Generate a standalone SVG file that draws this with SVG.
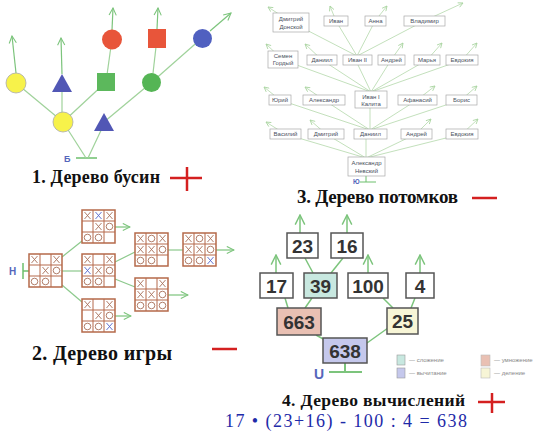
<svg xmlns="http://www.w3.org/2000/svg" width="550" height="435" viewBox="0 0 550 435">
<style>
.ln{stroke:#9fd29a;stroke-width:1.2;fill:none}
.ar{stroke:#7cc47c;stroke-width:1.2;fill:none;marker-end:url(#ah)}
.ar4{stroke:#7cc47c;stroke-width:1.5;fill:none;marker-end:url(#ah4)}
.ln4{stroke:#7cc47c;stroke-width:1.5;fill:none}
.ln3{stroke:#bcdcb4;stroke-width:0.9;fill:none}
.ar3{stroke:#bcdcb4;stroke-width:0.9;fill:none;marker-end:url(#ah3)}
.base{stroke:#6cbf6c;stroke-width:1.5;fill:none}
.lbl{font-family:"Liberation Sans",Arial,sans-serif;font-weight:bold;fill:#5566bb}
.title{font-family:"Liberation Serif","Times New Roman",serif;font-weight:bold;fill:#111}
.red{stroke:#d42020;stroke-width:2.5}
.b3 rect{fill:#fff;stroke:#a8a8a8;stroke-width:0.7}
.b3 text{font-family:"Liberation Sans",Arial,sans-serif;font-size:6px;fill:#4a5060;text-anchor:middle}
.xo{stroke:#a8705a;stroke-width:0.9;fill:none}
.xb{stroke:#5566cc;stroke-width:0.9;fill:none}
.n4 rect{stroke:#555;stroke-width:1.5}
.n4 text{font-family:"Liberation Sans",Arial,sans-serif;font-weight:bold;font-size:19px;fill:#333;text-anchor:middle}
.leg{font-family:"Liberation Sans",Arial,sans-serif;font-size:6px;fill:#888}
</style>
<defs>
<marker id="ah" viewBox="0 0 10 10" refX="9" refY="5" markerWidth="9" markerHeight="9" orient="auto" markerUnits="userSpaceOnUse"><path d="M1,1 L9,5 L1,9" fill="none" stroke="#7cc47c" stroke-width="1.2"/></marker>
<marker id="ah4" viewBox="0 0 10 10" refX="9" refY="5" markerWidth="12" markerHeight="12" orient="auto" markerUnits="userSpaceOnUse"><path d="M1,1 L9,5 L1,9" fill="none" stroke="#7cc47c" stroke-width="1.2"/></marker>
<marker id="ah3" viewBox="0 0 10 10" refX="9" refY="5" markerWidth="6" markerHeight="6" orient="auto" markerUnits="userSpaceOnUse"><path d="M1,1 L9,5 L1,9" fill="none" stroke="#a9d4a0" stroke-width="1.4"/></marker>
<path id="gx" d="M-3,-3.5 L3,3.5 M3,-3.5 L-3,3.5"/>
<circle id="go" r="3.3"/>
<g id="grid"><rect x="0" y="0" width="33" height="33" fill="#fff" stroke="#b5694a" stroke-width="1.5"/><path d="M11,0V33M22,0V33M0,11H33M0,22H33" fill="none" stroke="#b5694a" stroke-width="1"/></g>
</defs>

<!-- ============ 1. Tree of beads ============ -->
<g id="connectors1">
<line class="base" x1="76" y1="158" x2="97" y2="158"/>
<line class="ln" x1="86" y1="158" x2="63" y2="122"/>
<line class="ln" x1="88" y1="158" x2="104" y2="124"/>
<line class="ln" x1="63" y1="122" x2="16" y2="83"/>
<line class="ln" x1="62" y1="122" x2="62" y2="84"/>
<line class="ln" x1="63" y1="122" x2="106" y2="82"/>
<line class="ln" x1="104" y1="122" x2="152" y2="82"/>
<line class="ln" x1="106" y1="82" x2="112" y2="39"/>
<line class="ln" x1="152" y1="82" x2="157" y2="38"/>
<line class="ln" x1="152" y1="82" x2="202" y2="38"/>
<line class="ar" x1="16" y1="73" x2="12" y2="36"/>
<line class="ar" x1="62" y1="74" x2="61" y2="38"/>
<line class="ar" x1="112" y1="30" x2="113" y2="8"/>
<line class="ar" x1="157" y1="29" x2="158" y2="8"/>
<line class="ar" x1="210" y1="31" x2="231" y2="13"/>
</g>
<text class="lbl" x="64" y="162" font-size="9">Б</text>
<g id="bead-y1"><circle cx="63" cy="122" r="10" fill="#f7f24a" stroke="#aaa" stroke-width="0.8"/></g>
<g id="bead-t1"><polygon points="104,113 114,131 94,131" fill="#5157b5"/></g>
<g id="bead-y2"><circle cx="16" cy="83" r="10" fill="#f7f24a" stroke="#aaa" stroke-width="0.8"/></g>
<g id="bead-t2"><polygon points="62,74 72,92 52,92" fill="#5157b5"/></g>
<g id="bead-s2"><rect x="97" y="73" width="18" height="18" fill="#5cb85c"/></g>
<g id="bead-c2"><circle cx="151.5" cy="82.5" r="9.5" fill="#55b555"/></g>
<g id="bead-r3"><circle cx="112" cy="39.5" r="10" fill="#e8553a"/></g>
<g id="bead-rs3"><rect x="148" y="29" width="18" height="19" fill="#e8553a"/></g>
<g id="bead-b3"><circle cx="202.5" cy="38.5" r="9.5" fill="#5060c0"/></g>
<text class="title" x="32" y="183" font-size="18" textLength="128">1. Дерево бусин</text>
<line class="red" x1="170" y1="178" x2="202" y2="178"/>
<line class="red" x1="187" y1="167" x2="187" y2="191"/>

<!-- ============ 3. Tree of descendants ============ -->
<g id="connectors3">
<line class="base" x1="366" y1="176" x2="366" y2="182" style="stroke-width:1"/>
<line class="base" x1="360" y1="182" x2="376" y2="182" style="stroke-width:1"/>
<polyline class="ar3" points="366,158 285,134 266,122"/>
<polyline class="ar3" points="366,158 326,134 310,120"/>
<line class="ln3" x1="366" y1="158" x2="366" y2="139"/>
<polyline class="ar3" points="366,158 416,134 431,119"/>
<polyline class="ar3" points="366,158 462,134 478,119"/>
<polyline class="ar3" points="370,130 280,100 264,87"/>
<polyline class="ar3" points="370,130 324,100 305,87"/>
<line class="ln3" x1="370" y1="130" x2="370" y2="108"/>
<polyline class="ar3" points="370,130 417,100 435,86"/>
<polyline class="ar3" points="370,130 461,100 477,86"/>
<polyline class="ar3" points="371,92 283,60 266,44"/>
<polyline class="ar3" points="371,92 322,60 305,44"/>
<line class="ln3" x1="371" y1="92" x2="358" y2="65"/>
<polyline class="ar3" points="371,92 391,60 403,43"/>
<polyline class="ar3" points="371,92 427,60 442,43"/>
<polyline class="ar3" points="371,92 462,60 477,43"/>
<polyline class="ar3" points="357,56 291,22 268,7"/>
<polyline class="ar3" points="357,56 336,21 330,6"/>
<polyline class="ar3" points="357,56 375,21 387,6"/>
<polyline class="ar3" points="357,56 424,21 463,3"/>
</g>
<g id="p-nevsky" class="b3"><rect x="348" y="157" width="37" height="19"/><text x="366.5" y="165">Александр</text><text x="366.5" y="172.5">Невский</text></g>
<g id="p-vasiliy" class="b3"><rect x="270" y="129" width="31" height="10"/><text x="285.5" y="136.2">Василий</text></g>
<g id="p-dmitriy" class="b3"><rect x="308" y="129" width="36" height="10"/><text x="326" y="136.2">Дмитрий</text></g>
<g id="p-daniil" class="b3"><rect x="354" y="129" width="33" height="10"/><text x="370.5" y="136.2">Даниил</text></g>
<g id="p-andrey" class="b3"><rect x="401" y="129" width="31" height="10"/><text x="416.5" y="136.2">Андрей</text></g>
<g id="p-evdokiya" class="b3"><rect x="446" y="129" width="32" height="10"/><text x="462" y="136.2">Евдокия</text></g>
<g id="p-yuriy" class="b3"><rect x="269" y="95" width="22" height="10"/><text x="280" y="102.2">Юрий</text></g>
<g id="p-aleksandr" class="b3"><rect x="303" y="95" width="42" height="10"/><text x="324" y="102.2">Александр</text></g>
<g id="p-kalita" class="b3"><rect x="355" y="91" width="32" height="17"/><text x="371" y="98.5">Иван  I</text><text x="371" y="105.5">Калита</text></g>
<g id="p-afanasiy" class="b3"><rect x="398" y="95" width="39" height="10"/><text x="417.5" y="102.2">Афанасий</text></g>
<g id="p-boris" class="b3"><rect x="446" y="95" width="31" height="10"/><text x="461.5" y="102.2">Борис</text></g>
<g id="p-semen" class="b3"><rect x="268" y="51" width="30" height="17"/><text x="283" y="58">Семен</text><text x="283" y="65">Гордый</text></g>
<g id="p-daniil2" class="b3"><rect x="307" y="55" width="30" height="10"/><text x="322" y="62.2">Даниил</text></g>
<g id="p-ivan2" class="b3"><rect x="343" y="55" width="29" height="10"/><text x="357.5" y="62.2">Иван  II</text></g>
<g id="p-andrey2" class="b3"><rect x="378" y="55" width="27" height="10"/><text x="391.5" y="62.2">Андрей</text></g>
<g id="p-marya" class="b3"><rect x="414" y="55" width="26" height="10"/><text x="427" y="62.2">Марья</text></g>
<g id="p-evdokiya2" class="b3"><rect x="446" y="55" width="32" height="10"/><text x="462" y="62.2">Евдокия</text></g>
<g id="p-donskoy" class="b3"><rect x="273" y="13" width="36" height="19"/><text x="291" y="21">Дмитрий</text><text x="291" y="28.5">Донской</text></g>
<g id="p-ivan" class="b3"><rect x="324" y="16" width="24" height="10"/><text x="336" y="23.2">Иван</text></g>
<g id="p-anna" class="b3"><rect x="365" y="16" width="21" height="10"/><text x="375.5" y="23.2">Анна</text></g>
<g id="p-vladimir" class="b3"><rect x="404" y="16" width="41" height="10"/><text x="424.5" y="23.2">Владимир</text></g>
<text class="lbl" x="353" y="184" font-size="6.5">Ю</text>
<text class="title" x="297" y="203" font-size="19" textLength="161">3. Дерево потомков</text>
<line class="red" x1="472" y1="198" x2="497" y2="198"/>

<!-- ============ 2. Game tree ============ -->
<g id="connectors2">
<line class="base" x1="23" y1="263" x2="23" y2="279"/>
<line class="base" x1="23" y1="271" x2="29" y2="271"/>
<line class="ln" style="stroke:#8cc98c" x1="62" y1="257" x2="82" y2="241"/>
<line class="ln" style="stroke:#8cc98c" x1="62" y1="271" x2="82" y2="271"/>
<line class="ln" style="stroke:#8cc98c" x1="62" y1="285" x2="82" y2="302"/>
<line class="ln" style="stroke:#8cc98c" x1="115" y1="262" x2="135" y2="252"/>
<line class="ln" style="stroke:#8cc98c" x1="115" y1="279" x2="135" y2="287"/>
<line class="ln" style="stroke:#8cc98c" x1="167" y1="250" x2="183" y2="250"/>
<line class="ar" x1="115" y1="227" x2="130" y2="227"/>
<line class="ar" x1="115" y1="316" x2="131" y2="316"/>
<line class="ar" x1="167" y1="295" x2="188" y2="295"/>
<line class="ar" x1="216" y1="250" x2="234" y2="250"/>
</g>
<text class="lbl" x="9" y="275" font-size="10">Н</text>
<g id="board-root" transform="translate(29,254)"><use href="#grid"/>
<use href="#gx" class="xo" x="5.5" y="5.5"/><use href="#gx" class="xo" x="27.5" y="5.5"/><use href="#gx" class="xo" x="16.5" y="16.5"/>
<use href="#go" class="xo" x="27.5" y="16.5"/><use href="#go" class="xo" x="5.5" y="27.5"/><use href="#go" class="xo" x="16.5" y="27.5"/></g>
<g id="board-a" transform="translate(82,210)"><use href="#grid"/>
<use href="#gx" class="xo" x="5.5" y="5.5"/><use href="#gx" class="xb" x="16.5" y="5.5"/><use href="#gx" class="xo" x="27.5" y="5.5"/><use href="#gx" class="xo" x="16.5" y="16.5"/>
<use href="#go" class="xo" x="27.5" y="16.5"/><use href="#go" class="xo" x="5.5" y="27.5"/><use href="#go" class="xo" x="16.5" y="27.5"/></g>
<g id="board-b" transform="translate(82,254)"><use href="#grid"/>
<use href="#gx" class="xo" x="5.5" y="5.5"/><use href="#gx" class="xo" x="27.5" y="5.5"/><use href="#gx" class="xb" x="5.5" y="16.5"/><use href="#gx" class="xo" x="16.5" y="16.5"/>
<use href="#go" class="xo" x="27.5" y="16.5"/><use href="#go" class="xo" x="5.5" y="27.5"/><use href="#go" class="xo" x="16.5" y="27.5"/></g>
<g id="board-c" transform="translate(82,299)"><use href="#grid"/>
<use href="#gx" class="xo" x="5.5" y="5.5"/><use href="#gx" class="xo" x="27.5" y="5.5"/><use href="#gx" class="xo" x="16.5" y="16.5"/><use href="#gx" class="xb" x="27.5" y="27.5"/>
<use href="#go" class="xo" x="27.5" y="16.5"/><use href="#go" class="xo" x="5.5" y="27.5"/><use href="#go" class="xo" x="16.5" y="27.5"/></g>
<g id="board-d" transform="translate(135,233)"><use href="#grid"/>
<use href="#gx" class="xo" x="5.5" y="5.5"/><use href="#go" class="xo" x="16.5" y="5.5"/><use href="#gx" class="xo" x="27.5" y="5.5"/><use href="#gx" class="xo" x="5.5" y="16.5"/><use href="#gx" class="xo" x="16.5" y="16.5"/>
<use href="#go" class="xo" x="27.5" y="16.5"/><use href="#go" class="xo" x="5.5" y="27.5"/><use href="#go" class="xo" x="16.5" y="27.5"/></g>
<g id="board-e" transform="translate(135,278)"><use href="#grid"/>
<use href="#gx" class="xo" x="5.5" y="5.5"/><use href="#gx" class="xo" x="27.5" y="5.5"/><use href="#gx" class="xo" x="5.5" y="16.5"/><use href="#gx" class="xo" x="16.5" y="16.5"/>
<use href="#go" class="xo" x="27.5" y="16.5"/><use href="#go" class="xo" x="5.5" y="27.5"/><use href="#go" class="xo" x="16.5" y="27.5"/><use href="#go" class="xo" x="27.5" y="27.5"/></g>
<g id="board-f" transform="translate(183,233)"><use href="#grid"/>
<use href="#gx" class="xo" x="5.5" y="5.5"/><use href="#go" class="xo" x="16.5" y="5.5"/><use href="#gx" class="xo" x="27.5" y="5.5"/><use href="#gx" class="xo" x="5.5" y="16.5"/><use href="#gx" class="xo" x="16.5" y="16.5"/>
<use href="#go" class="xo" x="27.5" y="16.5"/><use href="#go" class="xo" x="5.5" y="27.5"/><use href="#go" class="xo" x="16.5" y="27.5"/><use href="#gx" class="xb" x="27.5" y="27.5"/></g>
<text class="title" x="32" y="360" font-size="20" textLength="140">2. Дерево игры</text>
<line class="red" x1="212" y1="349" x2="237" y2="349"/>

<!-- ============ 4. Computation tree ============ -->
<g id="connectors4">
<line class="ar4" x1="300" y1="233" x2="300" y2="215"/>
<line class="ar4" x1="347" y1="233" x2="347" y2="215"/>
<line class="ar4" x1="276" y1="273" x2="276" y2="255"/>
<line class="ar4" x1="368" y1="273" x2="368" y2="255"/>
<line class="ar4" x1="420" y1="273" x2="420" y2="255"/>
<line class="ln4" x1="305" y1="258" x2="313" y2="273"/>
<line class="ln4" x1="343" y1="258" x2="331" y2="273"/>
<line class="ln4" x1="285" y1="298" x2="288" y2="308"/>
<line class="ln4" x1="312" y1="298" x2="305" y2="308"/>
<line class="ln4" x1="383" y1="298" x2="393" y2="308"/>
<line class="ln4" x1="415" y1="298" x2="411" y2="308"/>
<line class="ln4" x1="316" y1="335" x2="325" y2="340"/>
<line class="ln4" x1="388" y1="328" x2="367" y2="343"/>
<line class="base" x1="345" y1="363" x2="345" y2="372" style="stroke:#7cc47c;stroke-width:2"/>
<line class="base" x1="329" y1="372" x2="362" y2="372" style="stroke:#7cc47c;stroke-width:2"/>
</g>
<text class="lbl" x="314" y="379" font-size="14">U</text>
<g id="n23" class="n4"><rect x="287" y="233" width="31" height="25" fill="#fff"/><text x="302.5" y="252.5">23</text></g>
<g id="n16" class="n4"><rect x="331" y="233" width="32" height="25" fill="#fff"/><text x="347" y="252.5">16</text></g>
<g id="n17" class="n4"><rect x="260" y="273" width="33" height="25" fill="#fff"/><text x="276.5" y="292.5">17</text></g>
<g id="n39" class="n4"><rect x="304" y="273" width="33" height="25" fill="#c8e8e0"/><text x="320.5" y="292.5">39</text></g>
<g id="n100" class="n4"><rect x="348" y="273" width="40" height="25" fill="#fff"/><text x="368" y="292.5">100</text></g>
<g id="n4" class="n4"><rect x="406" y="273" width="28" height="25" fill="#fff"/><text x="420" y="292.5">4</text></g>
<g id="n663" class="n4"><rect x="277" y="308" width="44" height="27" fill="#e9c0b3"/><text x="299" y="328.5">663</text></g>
<g id="n25" class="n4"><rect x="387" y="308" width="31" height="26" fill="#f7f5d6"/><text x="402.5" y="328">25</text></g>
<g id="n638" class="n4"><rect x="323" y="338" width="44" height="25" fill="#c5c8ec"/><text x="345" y="357.5">638</text></g>
<g id="legend">
<rect x="397" y="355" width="8" height="10" fill="#c8e8e0" stroke="#999" stroke-width="0.6"/>
<text class="leg" x="409" y="362">— сложение</text>
<rect x="397" y="368" width="8" height="10" fill="#c5c8ec" stroke="#999" stroke-width="0.6"/>
<text class="leg" x="409" y="375">— вычитание</text>
<rect x="481" y="355" width="9" height="11" fill="#e9c0b3" stroke="#bbb" stroke-width="0.6"/>
<text class="leg" x="494" y="362">— умножение</text>
<rect x="481" y="368" width="9" height="10" fill="#f7f5d6" stroke="#bbb" stroke-width="0.6"/>
<text class="leg" x="494" y="375">— деление</text>
</g>
<text class="title" x="282" y="406" font-size="17.5" textLength="183">4. Дерево вычислений</text>
<line class="red" x1="478" y1="402" x2="505" y2="402"/>
<line class="red" x1="492" y1="393" x2="492" y2="413"/>
<text x="225" y="427" font-family="'Liberation Serif','Times New Roman',serif" font-size="18" fill="#1e2aa8" textLength="242">17 • (23+16) - 100 : 4 = 638</text>
</svg>
